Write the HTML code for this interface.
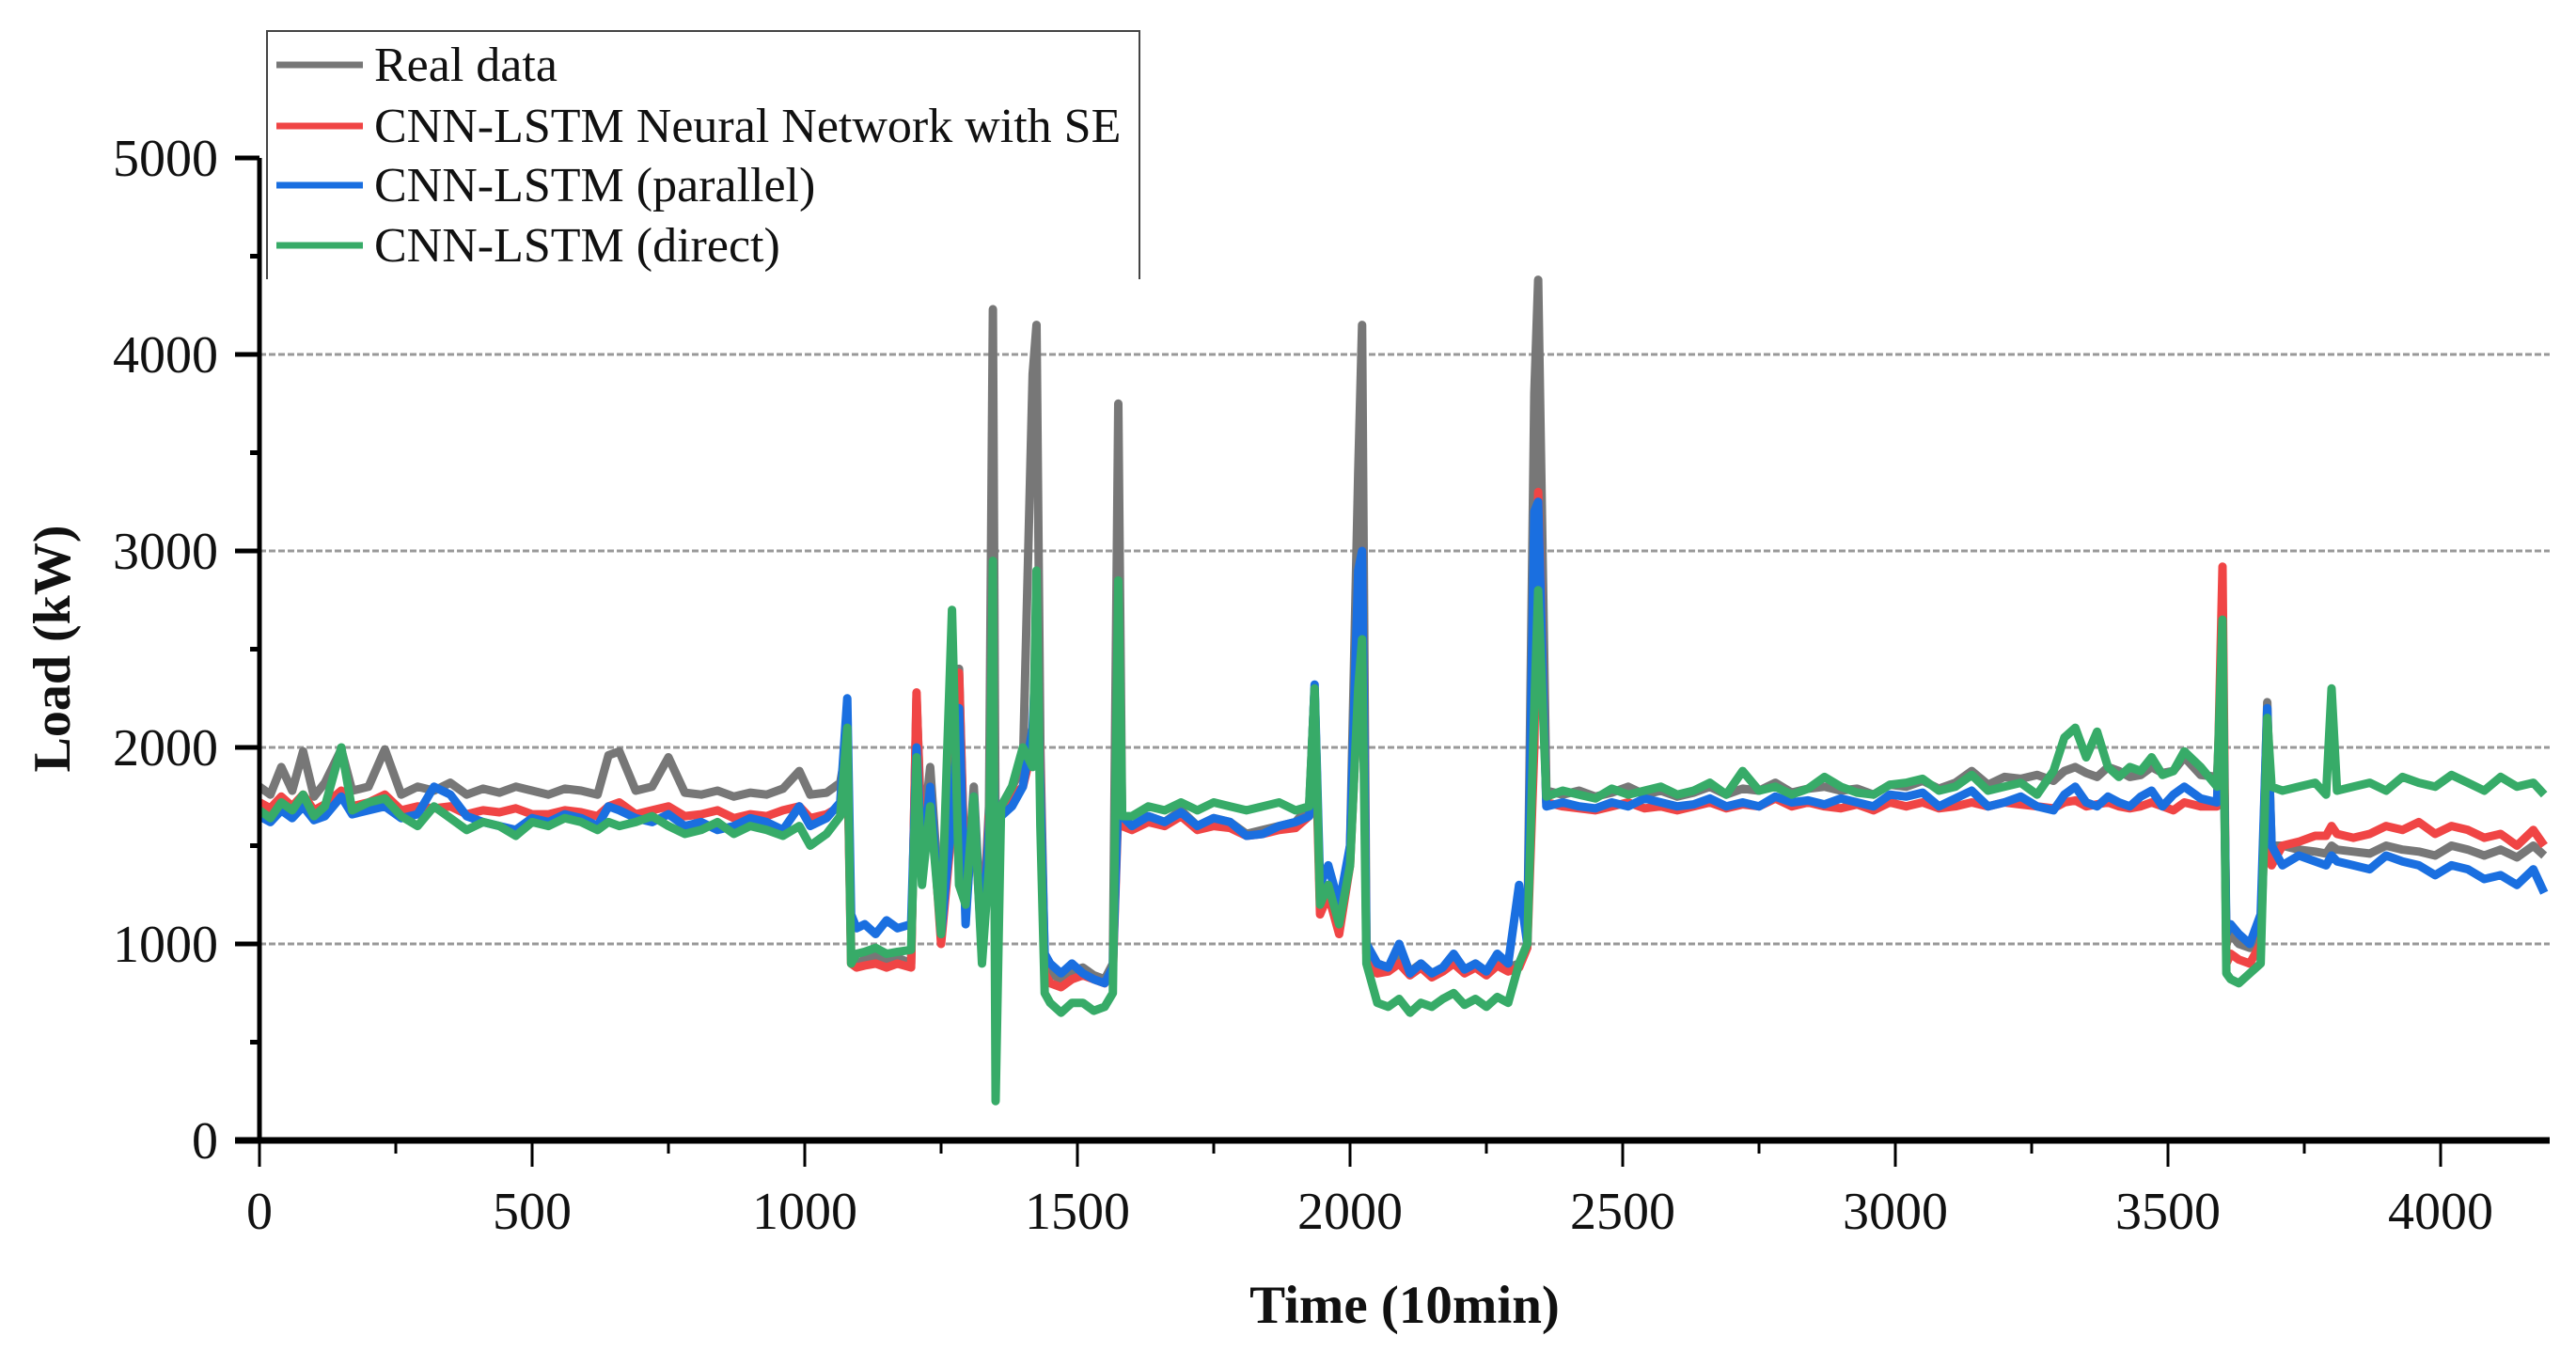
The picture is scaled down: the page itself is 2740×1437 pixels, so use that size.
<!DOCTYPE html>
<html><head><meta charset="utf-8"><style>
html,body{margin:0;padding:0;background:#fff;}
svg{display:block;font-family:"Liberation Serif",serif;}
</style></head><body>
<svg id="chart" width="2740" height="1437" viewBox="0 0 2740 1437">
<g id="grid"></g>
<g id="series"></g>
<g id="axes"></g>
<g id="legend">
  <rect x="284" y="33" width="928" height="264" fill="#fff"/>
  <path d="M284 297 V33 H1212 V297" fill="none" stroke="#444" stroke-width="2"/>
  <g><line x1="294" y1="69" x2="386" y2="69" stroke="#777" stroke-width="7"/><text x="398" y="86" font-size="52" fill="#111">Real data</text></g>
  <g><line x1="294" y1="134" x2="386" y2="134" stroke="#f04545" stroke-width="7"/><text x="398" y="151" font-size="52" fill="#111">CNN-LSTM Neural Network with SE</text></g>
  <g><line x1="294" y1="197" x2="386" y2="197" stroke="#1a6fe0" stroke-width="7"/><text x="398" y="214" font-size="52" fill="#111">CNN-LSTM (parallel)</text></g>
  <g><line x1="294" y1="261" x2="386" y2="261" stroke="#37ab68" stroke-width="7"/><text x="398" y="278" font-size="52" fill="#111">CNN-LSTM (direct)</text></g>
</g>
<text x="1494" y="1407" font-size="57" font-weight="bold" text-anchor="middle" fill="#111">Time (10min)</text>
<text x="0" y="0" font-size="56" font-weight="bold" text-anchor="middle" fill="#111" transform="translate(74,690) rotate(-90)">Load (kW)</text>
</svg>
<script>
const times=[0,20,40,60,80,100,120,150,170,200,
230,260,290,320,350,380,410,440,470,500,
530,560,590,620,640,660,690,720,750,780,
810,840,870,900,930,960,990,1010,1040,1065,
1078,1085,1095,1110,1130,1150,1170,1195,1205,1215,
1230,1250,1270,1283,1295,1310,1325,1338,1345,1350,
1360,1380,1400,1418,1425,1432,1440,1450,1470,1490,
1510,1530,1550,1565,1575,1582,1600,1630,1660,1690,
1720,1750,1780,1810,1840,1870,1900,1925,1935,1945,
1960,1980,2000,2015,2022,2030,2050,2070,2090,2110,
2130,2150,2170,2190,2210,2230,2250,2270,2290,2310,
2325,2338,2345,2360,2390,2420,2450,2480,2510,2540,
2570,2600,2630,2660,2690,2720,2750,2780,2810,2840,
2870,2900,2930,2960,2990,3020,3050,3080,3110,3140,
3170,3200,3230,3260,3290,3310,3330,3350,3370,3390,
3410,3430,3450,3470,3490,3510,3530,3560,3590,3600,
3607,3615,3630,3650,3670,3682,3690,3710,3740,3770,
3790,3800,3810,3840,3870,3900,3930,3960,3990,4020,
4050,4080,4110,4140,4170,4190];
const realData=[1800,1760,1900,1780,1980,1750,1820,1990,1780,1800,
1990,1760,1800,1780,1820,1760,1790,1770,1800,1780,
1760,1790,1780,1760,1960,1980,1780,1800,1950,1770,
1760,1780,1750,1770,1760,1790,1880,1760,1770,1820,
2020,960,900,920,940,910,930,900,2250,1500,
1900,1100,1700,2400,1200,1800,1000,1700,4230,1500,
1700,1800,1900,3900,4150,2000,900,850,820,860,
880,840,820,900,3750,1600,1600,1650,1620,1680,
1600,1640,1620,1560,1580,1600,1620,1700,2300,1200,
1300,1100,1500,3400,4150,1000,900,880,950,860,
900,850,880,920,870,900,860,910,880,900,
1000,3800,4380,1780,1760,1780,1750,1770,1800,1760,
1780,1750,1770,1800,1760,1790,1780,1820,1770,1790,
1800,1780,1790,1760,1810,1800,1830,1790,1820,1880,
1810,1850,1840,1860,1830,1880,1900,1870,1850,1900,
1880,1850,1860,1900,1870,1880,1950,1860,1850,2450,
1000,1050,1000,980,1050,2230,1500,1500,1480,1470,
1460,1500,1480,1470,1460,1500,1480,1470,1450,1500,
1480,1450,1480,1440,1500,1450];
const seModel=[1720,1690,1750,1700,1760,1680,1710,1780,1700,1720,
1760,1680,1700,1690,1700,1660,1680,1670,1690,1660,
1660,1680,1670,1650,1700,1720,1660,1680,1700,1650,
1660,1680,1640,1660,1650,1680,1700,1640,1660,1700,
2000,900,880,890,900,880,900,880,2280,1400,
1800,1000,1600,2380,1150,1700,950,1650,1700,1550,
1650,1750,1800,2000,2400,1900,850,800,780,820,
840,820,800,860,1700,1600,1580,1620,1600,1650,
1580,1600,1590,1550,1560,1580,1590,1650,2200,1150,
1250,1050,1400,2300,3000,950,850,860,900,840,
880,830,860,900,850,880,840,890,860,880,
980,2000,3300,1720,1700,1690,1680,1700,1720,1690,
1700,1680,1700,1720,1690,1710,1700,1740,1700,1720,
1700,1690,1710,1680,1720,1700,1720,1690,1700,1720,
1700,1720,1710,1700,1690,1720,1730,1700,1710,1720,
1700,1690,1700,1720,1700,1680,1720,1700,1700,2920,
900,950,920,900,1000,2000,1400,1500,1520,1550,
1550,1600,1560,1540,1560,1600,1580,1620,1560,1600,
1580,1540,1560,1500,1580,1500];
const parallelModel=[1650,1620,1680,1640,1700,1630,1650,1750,1660,1680,
1700,1640,1660,1800,1760,1650,1620,1600,1580,1640,
1620,1660,1640,1600,1700,1680,1640,1620,1660,1600,
1620,1580,1600,1640,1620,1580,1700,1600,1640,1720,
2250,1150,1080,1100,1050,1120,1080,1100,2000,1400,
1800,1050,1650,2200,1100,1750,950,1600,2000,1500,
1650,1700,1800,2100,2550,1800,950,900,850,900,
850,820,800,880,1750,1650,1600,1650,1620,1670,
1600,1640,1620,1550,1560,1600,1620,1650,2320,1300,
1400,1200,1500,2900,3000,1000,900,880,1000,850,
900,850,880,950,870,900,860,950,900,1300,
1000,3200,3250,1700,1720,1700,1690,1720,1700,1740,
1720,1700,1710,1740,1700,1720,1700,1750,1720,1730,
1710,1740,1720,1700,1760,1750,1770,1700,1740,1780,
1700,1720,1750,1700,1680,1760,1800,1720,1700,1750,
1720,1700,1750,1780,1700,1760,1800,1740,1720,2500,
1050,1100,1050,1000,1150,2200,1500,1400,1450,1420,
1400,1450,1420,1400,1380,1450,1420,1400,1350,1400,
1380,1330,1350,1300,1380,1260];
const directModel=[1680,1640,1720,1680,1760,1650,1700,2000,1680,1720,
1740,1650,1600,1700,1640,1580,1620,1600,1550,1620,
1600,1640,1620,1580,1620,1600,1620,1650,1600,1560,
1580,1620,1560,1600,1580,1550,1600,1500,1560,1650,
2100,900,950,960,980,950,960,970,1950,1300,
1700,1050,2700,1300,1200,1750,900,1400,2950,200,
1700,1800,2000,1900,2900,1600,750,700,650,700,
700,660,680,750,2850,1650,1650,1700,1680,1720,
1680,1720,1700,1680,1700,1720,1680,1700,2300,1200,
1300,1100,1400,2300,2550,900,700,680,720,650,
700,680,720,750,690,720,680,730,700,900,
1000,2200,2800,1750,1780,1760,1740,1790,1760,1780,
1800,1760,1780,1820,1760,1880,1780,1800,1760,1790,
1850,1800,1770,1760,1810,1820,1840,1780,1800,1860,
1780,1800,1820,1760,1880,2050,2100,1950,2080,1900,
1850,1900,1880,1950,1860,1880,1980,1900,1800,2650,
850,820,800,850,900,2150,1800,1780,1800,1820,
1760,2300,1780,1800,1820,1780,1850,1820,1800,1860,
1820,1780,1850,1800,1820,1760];
const xTicks=[0,500,1000,1500,2000,2500,3000,3500,4000];
const yTicks=[0,1000,2000,3000,4000,5000];
const gridValues=[1000,2000,3000,4000];

const NS="http://www.w3.org/2000/svg";
const X0=276,X1=2712,XMAX=4200,Y0=1213,Y1=168,YMAX=5000;
function xs(v){return X0+(X1-X0)*v/XMAX;}
function ys(v){return Y0-(Y0-Y1)*v/YMAX;}
function mk(tag,attrs,parent){const e=document.createElementNS(NS,tag);for(const k in attrs)e.setAttribute(k,attrs[k]);parent.appendChild(e);return e;}

const grid=document.getElementById('grid');
gridValues.forEach(v=>{
  const l=mk('line',{x1:X0,x2:X1,y1:ys(v),y2:ys(v),stroke:'#999','stroke-width':3,'stroke-dasharray':'7 3'},grid);
  
  
});

const series=document.getElementById('series');
const defs=[['series-real-data',realData,'#777'],['series-cnn-lstm-se',seModel,'#f04545'],['series-cnn-lstm-parallel',parallelModel,'#1a6fe0'],['series-cnn-lstm-direct',directModel,'#37ab68']];
defs.forEach(d=>{
  const pts=times.map((t,i)=>xs(t).toFixed(1)+','+ys(d[1][i]).toFixed(1)).join(' ');
  const p=mk('polyline',{points:pts,fill:'none',stroke:d[2],'stroke-width':9,'stroke-linejoin':'round'},series);
  
  
});

const axes=document.getElementById('axes');
const ya=mk('line',{x1:X0,x2:X0,y1:Y1,y2:Y0+3,stroke:'#000','stroke-width':5},axes);


const xa=mk('line',{x1:X0-26,x2:X1,y1:Y0,y2:Y0,stroke:'#000','stroke-width':7},axes);


for(let v=0;v<=YMAX;v+=500){
  const major=v%1000===0;
  const t=mk('line',{x1:X0-(major?26:10),x2:X0,y1:ys(v),y2:ys(v),stroke:'#000','stroke-width':5},axes);
  
  
}
yTicks.forEach(v=>{
  const t=mk('text',{x:232,y:ys(v)+19,'font-size':56,'text-anchor':'end',fill:'#111'},axes);
  t.textContent=String(v);
  
  
});
for(let v=0;v<=XMAX;v+=250){
  const major=v%500===0;
  const t=mk('line',{x1:xs(v),x2:xs(v),y1:Y0,y2:Y0+(major?28:14),stroke:'#000','stroke-width':3},axes);
  
  
}
xTicks.forEach(v=>{
  const t=mk('text',{x:xs(v),y:1307,'font-size':56,'text-anchor':'middle',fill:'#111'},axes);
  t.textContent=String(v);
  
  
});
</script>
</body></html>
